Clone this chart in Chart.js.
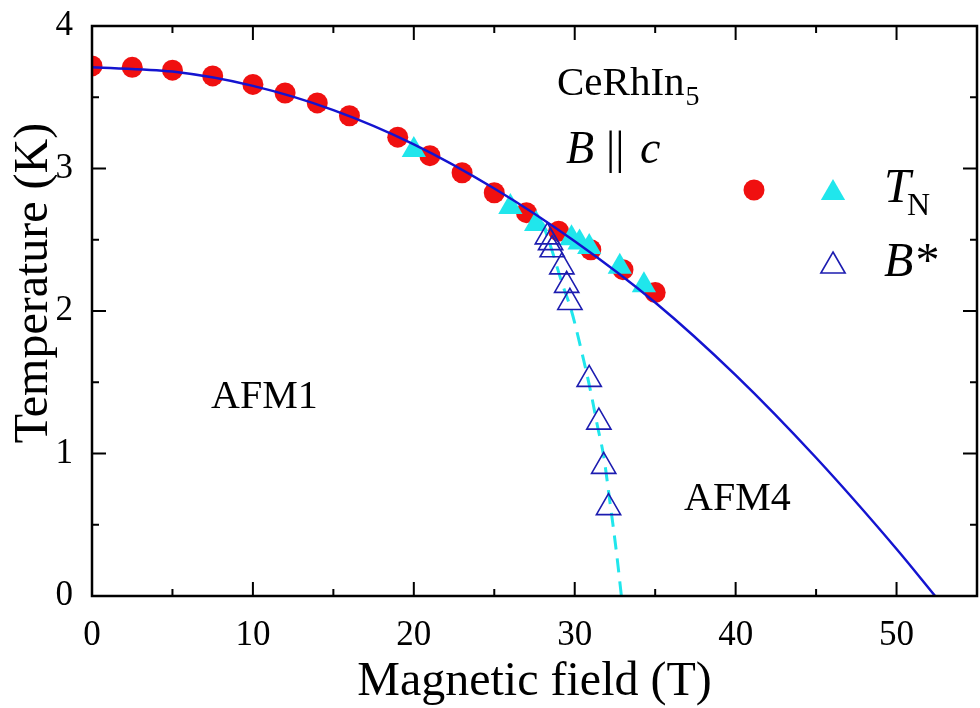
<!DOCTYPE html>
<html>
<head>
<meta charset="utf-8">
<script src="https://cdn.jsdelivr.net/npm/chart.js@4.4.0/dist/chart.umd.min.js"></script>
<style>
  html, body { margin: 0; padding: 0; background: #fff; }
</style>
</head>
<body>
<canvas id="c" width="980" height="708"></canvas>
<script>
const SERIF = '"Liberation Serif", "Times New Roman", serif';

// T_N, red circles
const tnCircleB = [0, 2.5, 5, 7.5, 10, 12, 14, 16, 19, 21, 23, 25, 27, 29, 31, 33, 35];
const tnCircleT = [3.72, 3.71, 3.69, 3.65, 3.59, 3.53, 3.46, 3.37, 3.22, 3.09, 2.97, 2.83, 2.69, 2.56, 2.43, 2.29, 2.13];
// T_N, cyan triangles
const tnTriB = [20, 26, 27.6, 29.8, 30.3, 30.9, 32.8, 34.3];
const tnTriT = [3.13, 2.73, 2.61, 2.51, 2.48, 2.45, 2.31, 2.18];
// B*, open triangles
const bStarB = [28.3, 28.5, 28.6, 29.2, 29.5, 29.7, 30.9, 31.5, 31.8, 32.1];
const bStarT = [2.52, 2.48, 2.43, 2.31, 2.18, 2.06, 1.52, 1.22, 0.91, 0.62];
// guide lines
const tnLineB = [0, 5, 10, 15, 20, 25, 30, 35, 40, 45, 50, 52.4];
const tnLineT = [3.71, 3.68, 3.58, 3.41, 3.17, 2.86, 2.49, 2.06, 1.55, 0.97, 0.33, 0];
const bStarLineB = [28.0, 28.6, 29.2, 29.8, 30.4, 31.0, 31.4, 31.8, 32.2, 32.6, 32.9];
const bStarLineT = [2.62, 2.42, 2.2, 2.0, 1.73, 1.43, 1.2, 0.98, 0.65, 0.3, 0];

const xTicks = [0, 10, 20, 30, 40, 50];
const yTicks = [0, 1, 2, 3, 4];

const RED = '#f01010';
const CYAN = '#20e6ec';
const NAVY = '#1c1cb0';
const BLUE = '#1414d0';

const pts = (xs, ys) => xs.map((x, i) => ({ x, y: ys[i] }));

function tri(ctx, x, y, r) {
  ctx.beginPath();
  for (let k = 0; k < 3; k++) {
    const a = k * 2 * Math.PI / 3;
    const px = x + Math.sin(a) * r, py = y - Math.cos(a) * r;
    k ? ctx.lineTo(px, py) : ctx.moveTo(px, py);
  }
  ctx.closePath();
}

// labels at the ends must not push the plot box inward
function fixBox(size, key) {
  return (s) => {
    s[key] = size;
    s.paddingLeft = s.paddingRight = s.paddingTop = s.paddingBottom = 0;
  };
}

// box + inward ticks on all four sides
const frame = {
  id: 'frame',
  afterDatasetsDraw(chart) {
    const { ctx, chartArea: a, scales: { x, y } } = chart;
    ctx.save();
    ctx.strokeStyle = '#000';
    ctx.lineWidth = 2.5;
    ctx.strokeRect(a.left, a.top, a.right - a.left, a.bottom - a.top);
    ctx.lineWidth = 2;
    ctx.beginPath();
    for (let v = 5; v < 55; v += 5) {
      const px = x.getPixelForValue(v);
      const len = v % 10 === 0 ? 14 : 7;
      ctx.moveTo(px, a.bottom); ctx.lineTo(px, a.bottom - len);
      ctx.moveTo(px, a.top); ctx.lineTo(px, a.top + len);
    }
    for (let v = 0.5; v < 4; v += 0.5) {
      const py = y.getPixelForValue(v);
      const len = Number.isInteger(v) ? 14 : 7;
      ctx.moveTo(a.left, py); ctx.lineTo(a.left + len, py);
      ctx.moveTo(a.right, py); ctx.lineTo(a.right - len, py);
    }
    ctx.stroke();
    ctx.restore();
  },
};

// titles, labels and legend
const notes = {
  id: 'notes',
  afterDraw(chart) {
    const { ctx, chartArea: a } = chart;
    ctx.save();
    ctx.fillStyle = '#000';
    ctx.textBaseline = 'alphabetic';

    ctx.font = `48px ${SERIF}`;
    ctx.textAlign = 'center';
    ctx.fillText('Magnetic field (T)', (a.left + a.right) / 2, 695);
    ctx.save();
    ctx.translate(47, 283);
    ctx.rotate(-Math.PI / 2);
    ctx.fillText('Temperature (K)', 0, 0);
    ctx.restore();

    ctx.textAlign = 'left';
    ctx.font = `41px ${SERIF}`;
    ctx.fillText('CeRhIn', 557, 95);
    let w = ctx.measureText('CeRhIn').width;
    ctx.font = `28px ${SERIF}`;
    ctx.fillText('5', 557 + w + 1, 105);

    ctx.font = `italic 46px ${SERIF}`;
    ctx.fillText('B', 566, 163);
    ctx.font = `46px ${SERIF}`;
    ctx.fillText('||', 606, 163);
    ctx.font = `italic 46px ${SERIF}`;
    ctx.fillText('c', 640, 163);

    ctx.font = `40px ${SERIF}`;
    ctx.fillText('AFM1', 211, 408);
    ctx.fillText('AFM4', 684, 510);

    // legend
    ctx.fillStyle = RED;
    ctx.beginPath();
    ctx.arc(754, 190, 10.5, 0, 2 * Math.PI);
    ctx.fill();
    ctx.fillStyle = CYAN;
    tri(ctx, 833, 193, 14);
    ctx.fill();
    ctx.strokeStyle = NAVY;
    ctx.lineWidth = 1.6;
    tri(ctx, 833, 266, 14);
    ctx.stroke();

    ctx.fillStyle = '#000';
    ctx.font = `italic 48px ${SERIF}`;
    ctx.fillText('T', 884, 202);
    ctx.font = `32px ${SERIF}`;
    ctx.fillText('N', 907, 215);
    ctx.font = `italic 48px ${SERIF}`;
    ctx.fillText('B*', 884, 276);
    ctx.restore();
  },
};

new Chart(document.getElementById('c'), {
  type: 'scatter',
  data: {
    datasets: [
      { label: 'fit', data: pts(tnLineB, tnLineT), showLine: true, borderColor: BLUE, borderWidth: 2.5,
        pointRadius: 0, cubicInterpolationMode: 'monotone', clip: 2, order: 1 },
      { label: 'B*', data: pts(bStarB, bStarT), pointStyle: 'triangle', pointRadius: 14,
        backgroundColor: 'rgba(0,0,0,0)', borderColor: NAVY, borderWidth: 1.6, clip: 2, order: 2 },
      { label: 'B* line', data: pts(bStarLineB, bStarLineT), showLine: true, borderColor: CYAN, borderWidth: 3,
        borderDash: [14, 9], pointRadius: 0, cubicInterpolationMode: 'monotone', clip: 2, order: 3 },
      { label: 'TN tri', data: pts(tnTriB, tnTriT), pointStyle: 'triangle', pointRadius: 14,
        backgroundColor: CYAN, borderColor: CYAN, borderWidth: 0, clip: 2, order: 4 },
      { label: 'TN', data: pts(tnCircleB, tnCircleT), pointStyle: 'circle', pointRadius: 10.5,
        backgroundColor: RED, borderColor: RED, borderWidth: 0, clip: 1, order: 5 },
    ],
  },
  options: {
    responsive: false,
    animation: false,
    events: [],
    layout: { autoPadding: false, padding: { top: 26, right: 3, left: 0, bottom: 0 } },
    plugins: { legend: { display: false }, tooltip: { enabled: false } },
    scales: {
      x: {
        type: 'linear', min: 0, max: 55,
        grid: { display: false, drawTicks: false },
        border: { display: false },
        afterFit: fixBox(112, 'height'),
        afterBuildTicks: (s) => { s.ticks = xTicks.map((v) => ({ value: v })); },
        ticks: { padding: 19, autoSkip: false, maxRotation: 0, color: '#000', font: { family: SERIF, size: 35 } },
      },
      y: {
        type: 'linear', min: 0, max: 4,
        grid: { display: false, drawTicks: false },
        border: { display: false },
        afterFit: fixBox(92, 'width'),
        afterBuildTicks: (s) => { s.ticks = yTicks.map((v) => ({ value: v })); },
        ticks: { padding: 19, autoSkip: false, color: '#000', font: { family: SERIF, size: 35 } },
      },
    },
  },
  plugins: [frame, notes],
});
</script>
</body>
</html>
